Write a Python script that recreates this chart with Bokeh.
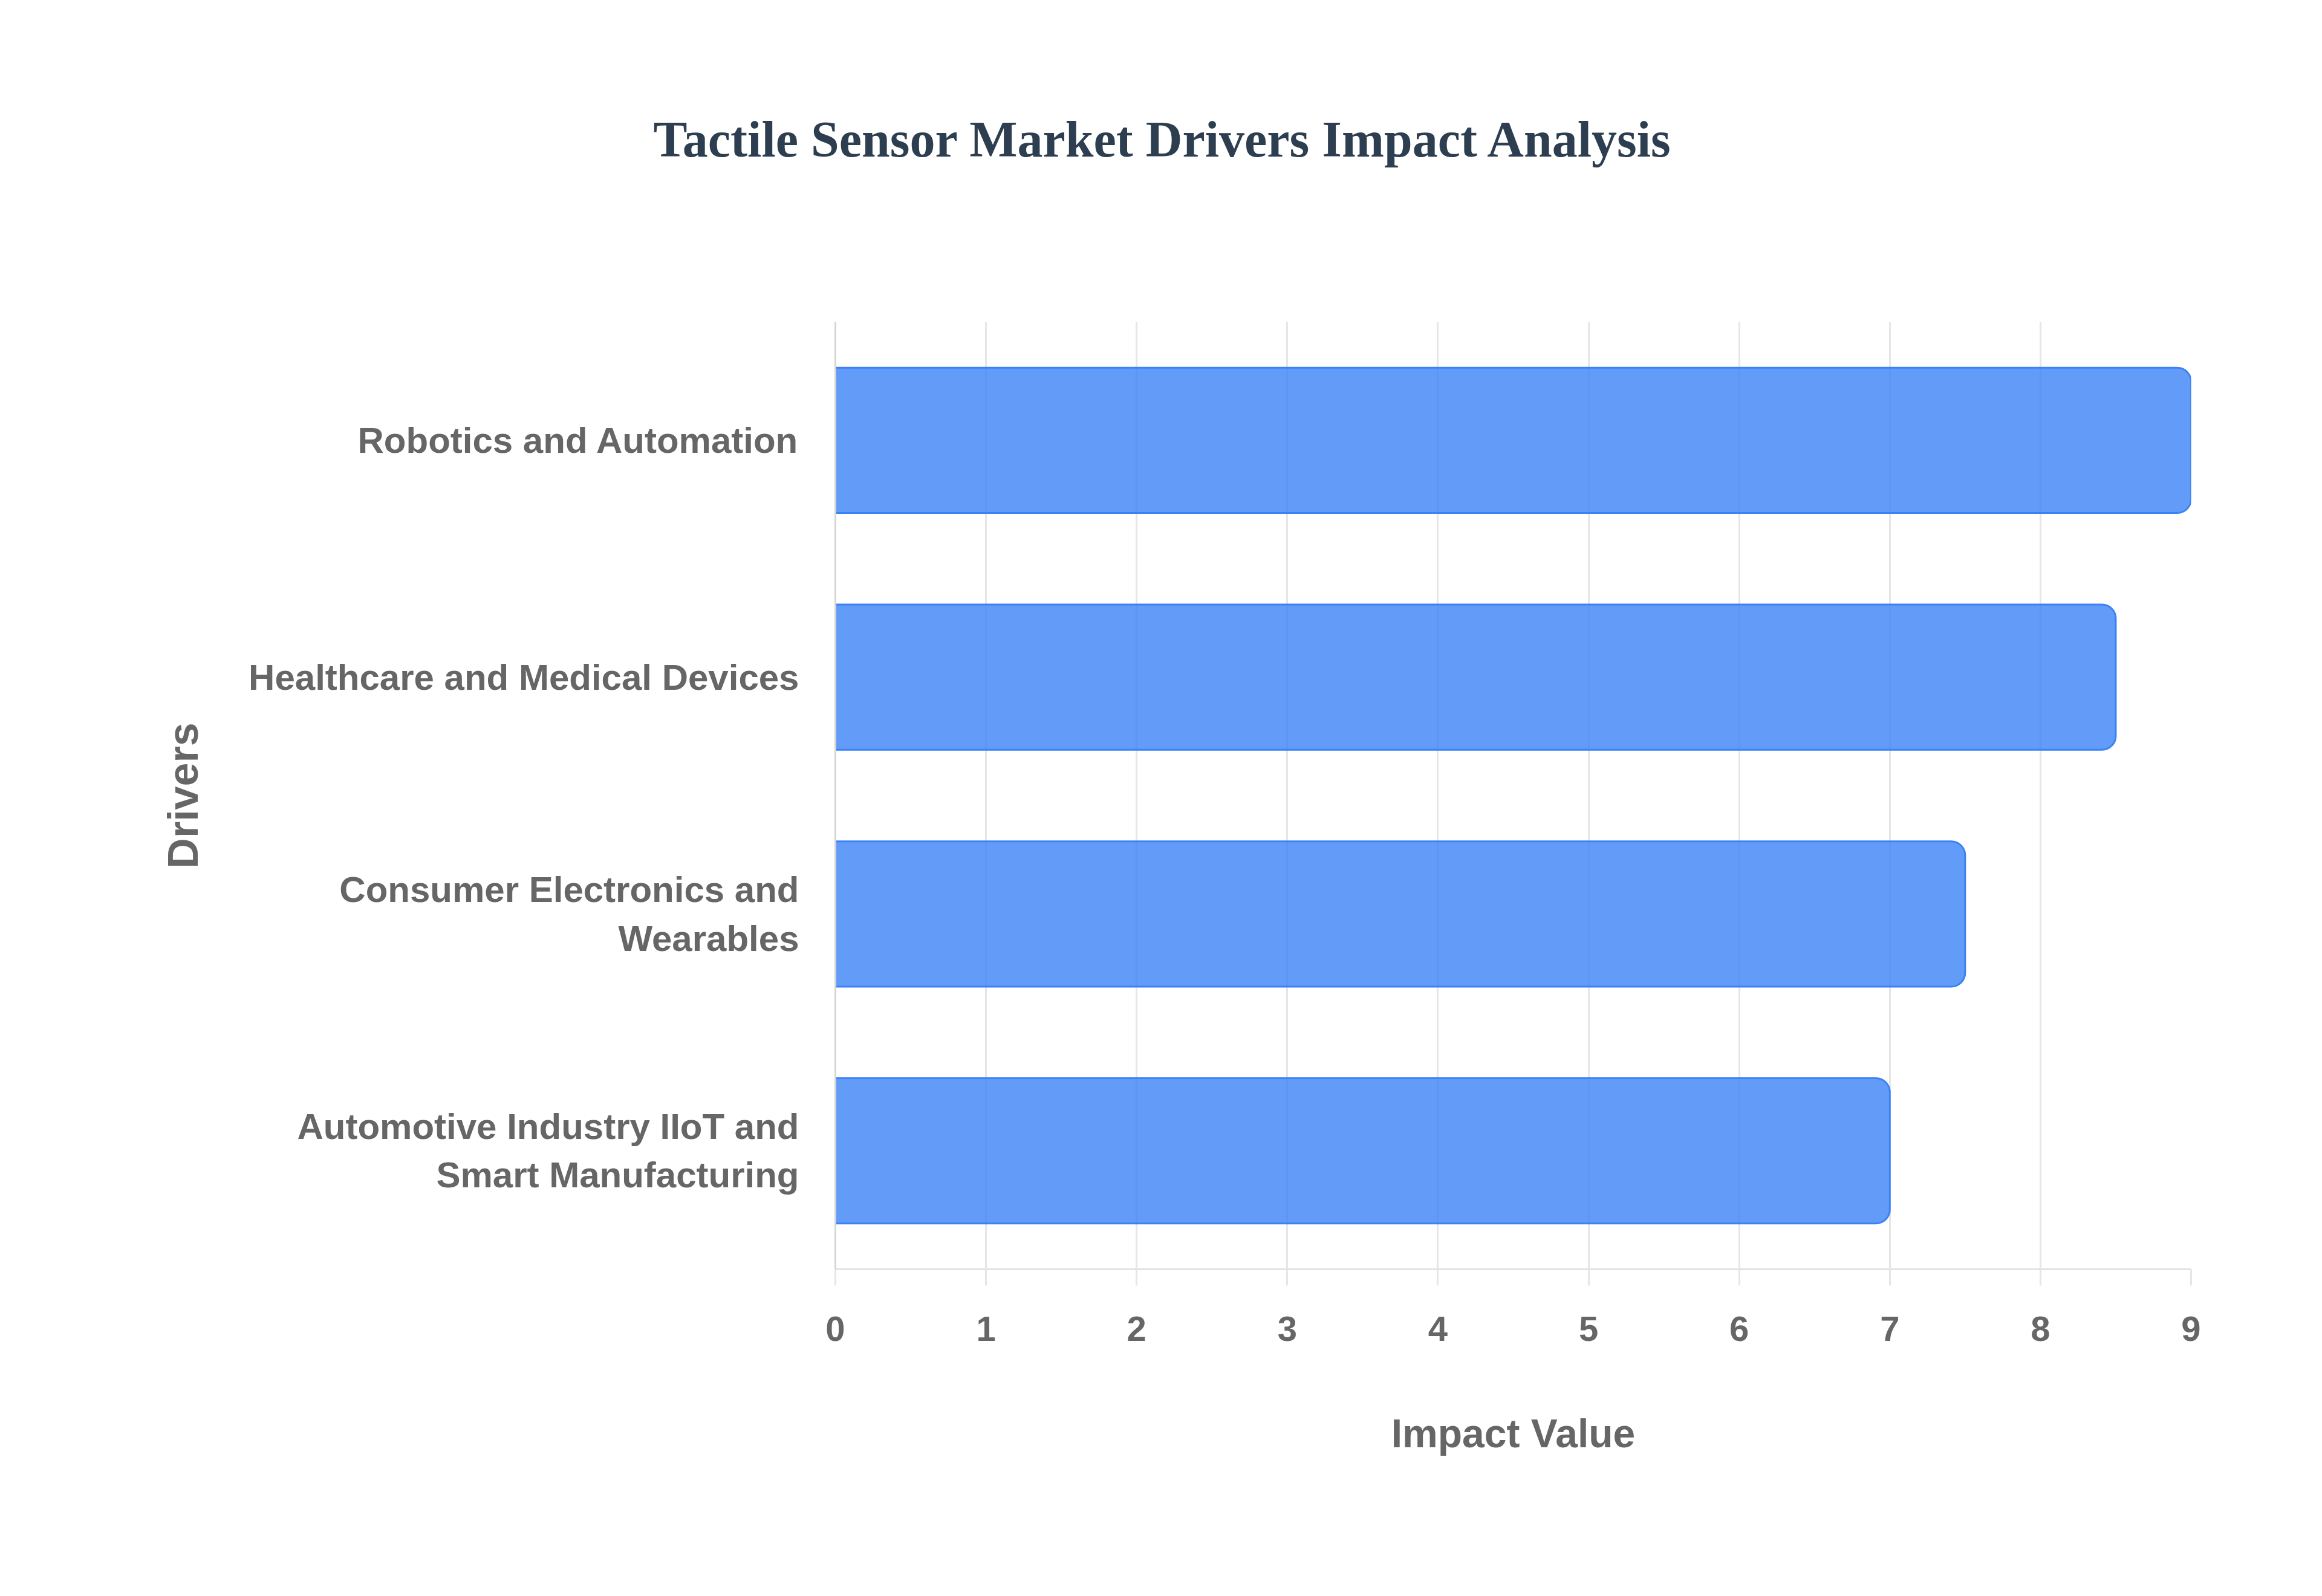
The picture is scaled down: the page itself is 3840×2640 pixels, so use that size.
from bokeh.plotting import figure
from bokeh.models import FactorRange, Range1d, FixedTicker, ColumnDataSource, Title
from bokeh.embed import file_html
from bokeh.resources import INLINE

# ---- data (bottom to top) ----
drivers = [
    "Automotive Industry IIoT and\nSmart Manufacturing",
    "Consumer Electronics and\nWearables",
    "Healthcare and Medical Devices",
    "Robotics and Automation",
]
impact = [7.0, 7.5, 8.5, 9.0]
x_ticks = [0, 1, 2, 3, 4, 5, 6, 7, 8, 9]
title_text = "Tactile Sensor Market Drivers Impact Analysis"
x_title = "Impact Value"
y_title = "Drivers"

SANS = "Liberation Sans"
SERIF = "Liberation Serif"
GREY = "#666666"

src = ColumnDataSource(data=dict(driver=drivers, impact=impact))

p = figure(
    y_range=FactorRange(factors=drivers),
    x_range=Range1d(0, 9),
    frame_width=2242, frame_height=1567,
    min_border_left=1381, min_border_right=201,
    min_border_top=532, min_border_bottom=525,
    output_backend="svg", toolbar_location=None,
    title="",
)
p.background_fill_color = "white"
p.border_fill_color = "white"
p.outline_line_color = None
p.title.text_font_size = "1px"

# invisible spacer directly above the frame
spacer = Title(text=" ", standoff=72, text_font_size="1px", text_color="white")
p.add_layout(spacer, "above")

# real chart title, placed above the spacer
main_title = Title(text=title_text, align="left", offset=-301, standoff=362,
                   text_font=SERIF, text_font_style="bold",
                   text_font_size="84px", text_color="#2c3e50")
p.add_layout(main_title, "above")

p.hbar(y="driver", right="impact", left=0, height=0.613, source=src,
       fill_color="#3b82f6", fill_alpha=0.8,
       line_color="#3b82f6", line_width=3,
       border_radius=(0, 23, 23, 0))

# grid
p.ygrid.visible = False
p.xgrid.grid_line_color = "#e6e6e6"
p.xgrid.grid_line_width = 3

# x axis
xa = p.xaxis[0]
xa.ticker = FixedTicker(ticks=x_ticks)
xa.axis_line_color = "#e3e3e3"
xa.axis_line_width = 3
xa.major_tick_out = 27
xa.major_tick_in = 0
xa.major_tick_line_color = "#e6e6e6"
xa.major_tick_line_width = 3
xa.minor_tick_line_color = None
xa.major_label_standoff = 51
xa.major_label_text_font = SANS
xa.major_label_text_font_style = "bold"
xa.major_label_text_font_size = "58px"
xa.major_label_text_color = GREY
xa.axis_label = x_title
xa.axis_label_text_font = SANS
xa.axis_label_text_font_style = "bold"
xa.axis_label_text_font_size = "66px"
xa.axis_label_text_color = GREY
xa.axis_label_standoff = 113

# y axis
ya = p.yaxis[0]
ya.axis_line_color = "#d6d6d6"
ya.axis_line_width = 3
ya.major_tick_line_color = None
ya.major_tick_out = 0
ya.major_tick_in = 0
ya.minor_tick_line_color = None
ya.major_label_standoff = 60
ya.major_label_text_font = SANS
ya.major_label_text_font_style = "bold"
ya.major_label_text_font_size = "60px"
ya.major_label_text_color = GREY
ya.axis_label = y_title
ya.axis_label_text_font = SANS
ya.axis_label_text_font_style = "bold"
ya.axis_label_text_font_size = "70px"
ya.axis_label_text_color = GREY
ya.axis_label_standoff = 66

open("out.html", "w").write(file_html(p, INLINE))
